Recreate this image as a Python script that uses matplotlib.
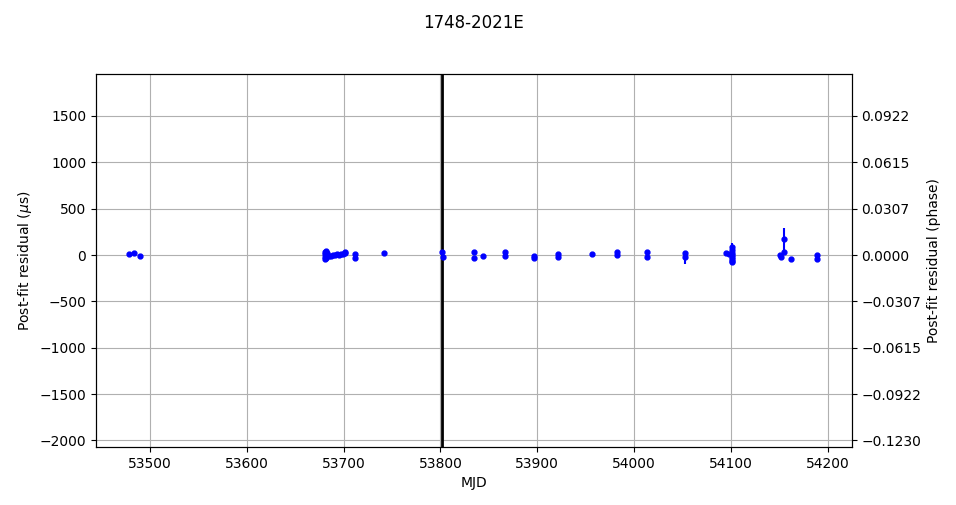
import numpy as np
import matplotlib.pyplot as plt

# Timing residuals for 1748-2021E
mjd = [53478.6, 53483.8, 53490.0,
       53680.5, 53680.8, 53681.0, 53681.3, 53681.6, 53682.0, 53682.5, 53683.0,
       53685.0, 53687.0, 53689.0, 53691.0, 53693.0, 53695.0, 53697.0, 53699.0,
       53701.0, 53701.5, 53711.6, 53711.8, 53741.9,
       53802.0, 53802.3, 53834.5, 53834.7, 53844.0,
       53866.8, 53867.0, 53896.8, 53897.0, 53921.6, 53921.8, 53956.6,
       53982.5, 53982.7, 54012.8, 54013.0, 54052.5, 54052.7,
       54095.4, 54097.5, 54100.8, 54101.0, 54101.2, 54101.0, 54101.3, 54101.1, 54101.4, 54101.2,
       54150.4, 54152.0, 54154.9, 54155.2, 54161.8, 54189.0, 54189.2]
res = [8, 18, -14,
       -45, -20, 10, 35, 45, -30, 0, 20,
       -10, -5, 0, 5, 10, 5, 15, 10,
       36, 20, 11, -36, 18,
       29, -18, 29, -36, -7,
       29, -7, -11, -36, 11, -18, 14,
       29, 0, 29, -25, 20, -25,
       18, 10, 90, 50, 20, 0, -20, -40, -60, -80,
       0, -18, 172, 36, -46, -4, -43]
err = [5, 5, 5,
       8, 8, 8, 8, 8, 8, 8, 8,
       6, 6, 6, 6, 6, 6, 6, 6,
       8, 8, 6, 6, 6,
       8, 8, 6, 6, 6,
       6, 6, 6, 6, 6, 6, 6,
       6, 6, 6, 6, 10, 70,
       6, 6, 45, 10, 10, 10, 10, 10, 10, 10,
       10, 10, 120, 10, 6, 6, 6]

period_us = 16262.0  # pulse period in microseconds, used for phase axis
jump_mjd = 53802.0

fig = plt.figure(figsize=(9.56, 5.05), dpi=100)
ax = fig.add_axes([0.1004, 0.1149, 0.7906, 0.7386])

ax.errorbar(mjd, res, yerr=err, fmt='.', color='blue', ecolor='blue', markersize=7)
ax.axvline(jump_mjd, color='black', linewidth=2)

ax.set_xlim(53444.3, 54224.8)
ax.set_ylim(-2070, 1953)
yticks = np.arange(-2000, 1501, 500)
ax.set_yticks(yticks)
ax.grid(True)
ax.set_xlabel('MJD')
ax.set_ylabel(r'Post-fit residual ($\mu$s)')

ax2 = ax.twinx()
ax2.set_ylim(ax.get_ylim())
ax2.set_yticks(yticks)
ax2.set_yticklabels([f'{t / period_us:.4f}'.replace('-', '\u2212') for t in yticks])
ax2.set_ylabel('Post-fit residual (phase)')

fig.suptitle('1748-2021E', x=0.495, y=0.972)
fig.savefig('out.png', dpi=100)
